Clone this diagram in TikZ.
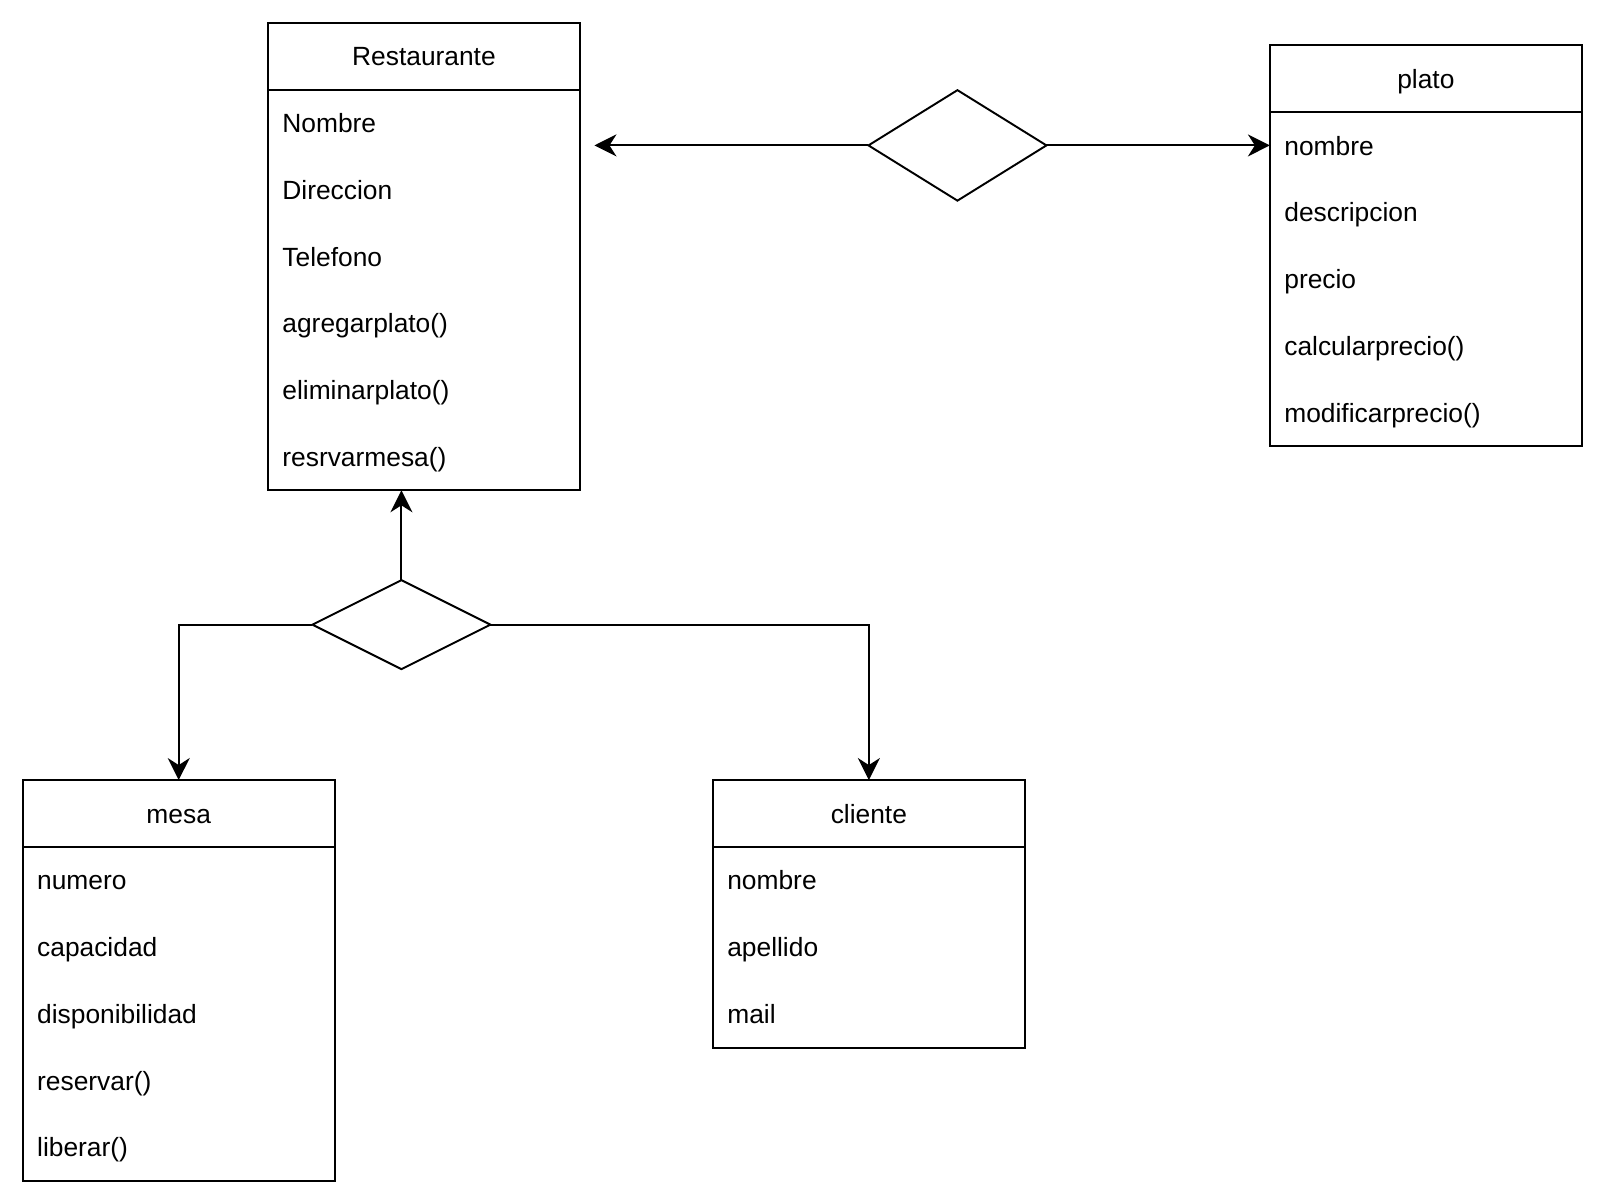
\documentclass[tikz,border=0pt]{standalone}
\usepackage{fontspec}
\setmainfont{Liberation Sans}
\usepackage{tikz}
\usetikzlibrary{positioning, shapes.geometric, arrows.meta, calc}
\tikzset{>={Stealth[length=0.44cm, width=0.44cm, inset=0.14cm]},
	classhead/.style={draw, rectangle, minimum width=6.24cm, minimum height=1.34cm, inner sep=0pt, outer sep=0pt, text height=0.38cm, text depth=0cm},
	classbody/.style={draw, rectangle, minimum width=6.24cm, inner sep=0pt, outer sep=0pt},
	member/.style={anchor=base west, inner sep=0pt},
	relation/.style={draw, diamond, minimum width=3.56cm, inner sep=0pt, outer sep=0pt}}

\begin{document}
\begin{tikzpicture}[line width=1.1pt, every node/.style={font=\fontsize{15}{18}\selectfont}]
	\useasboundingbox (0,0) rectangle (32,-24.02);

	% classes
	\node[classhead] (Restaurante) at (8.479,-1.126) {Restaurante};
	\node[classbody, minimum height=8.01cm, below=0pt of Restaurante] (Restaurante Body) {};
	\node[classhead] (Plato) at (28.518,-1.577) {plato};
	\node[classbody, minimum height=6.67cm, below=0pt of Plato] (Plato Body) {};
	\node[classhead] (Mesa) at (3.574,-16.271) {mesa};
	\node[classbody, minimum height=6.67cm, below=0pt of Mesa] (Mesa Body) {};
	\node[classhead] (Cliente) at (17.377,-16.271) {cliente};
	\node[classbody, minimum height=4.01cm, below=0pt of Cliente] (Cliente Body) {};

	% members
	\foreach \t [count=\i] in {Nombre, Direccion, Telefono, agregarplato(), eliminarplato(), resrvarmesa()}
		\node[member] (Restaurante Row \i) at ($(Restaurante Body.north west)+(0.27,-1.335*\i+0.4775)$) {\t};
	\foreach \t [count=\i] in {nombre, descripcion, precio, calcularprecio(), modificarprecio()}
		\node[member] (Plato Row \i) at ($(Plato Body.north west)+(0.27,-1.335*\i+0.4775)$) {\t};
	\foreach \t [count=\i] in {numero, capacidad, disponibilidad, reservar(), liberar()}
		\node[member] (Mesa Row \i) at ($(Mesa Body.north west)+(0.27,-1.335*\i+0.4775)$) {\t};
	\foreach \t [count=\i] in {nombre, apellido, mail}
		\node[member] (Cliente Row \i) at ($(Cliente Body.north west)+(0.27,-1.335*\i+0.4775)$) {\t};

	% relations
	\node[relation, minimum height=2.21cm] (Rel Menu) at (19.149,-2.908) {};
	\node[relation, minimum height=1.78cm] (Rel Reserva) at (8.028,-12.493) {};
	\coordinate (Menu Tip) at ($(Rel Menu.west -| Restaurante Body.east)+(0.29,0)$);

	\draw[->] (Rel Menu.west) -- (Menu Tip);
	\draw[->] (Rel Menu.east) -- (Rel Menu.east -| Plato Body.west);
	\draw[->] (Rel Reserva.north) -- (Rel Reserva.north |- Restaurante Body.south);
	\draw[->] (Rel Reserva.west) -| (Mesa.north);
	\draw[->] (Rel Reserva.east) -| (Cliente.north);
\end{tikzpicture}
\end{document}
